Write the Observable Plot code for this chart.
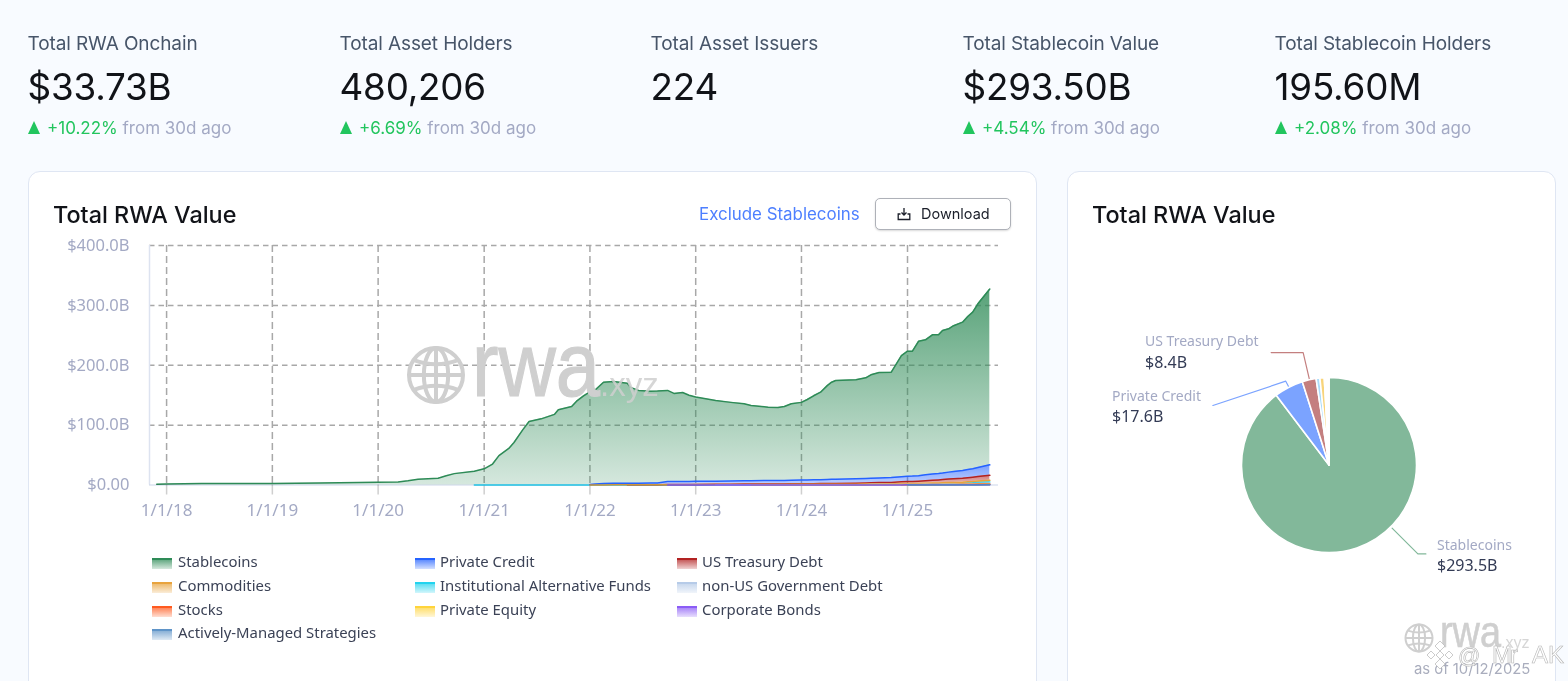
<!DOCTYPE html>
<html><head><meta charset="utf-8">
<script src="https://cdn.jsdelivr.net/npm/d3@7"></script>
<script src="https://cdn.jsdelivr.net/npm/@observablehq/plot@0.6"></script>
<style>
html,body{margin:0;padding:0;width:1568px;height:681px;overflow:hidden;background:#f8fbff;font-family:Inter,sans-serif}
.abs{position:absolute;white-space:nowrap}
.card{position:absolute;background:#fff;border:1px solid #dfe6f3;border-radius:12px;box-sizing:border-box}
.slabel{font-size:19px;color:#475569;line-height:22px;letter-spacing:-.1px}
.sval{font-size:36.8px;color:#111318;line-height:44px;letter-spacing:-.2px}
.sdelta{font-size:17px;line-height:20px;color:#a3a9c4}
.sdelta b{font-weight:400;color:#22c55e}
.tri{position:absolute;width:0;height:0;border-left:6.5px solid transparent;border-right:6.5px solid transparent;border-bottom:13px solid #22c55e}
.ctitle{font-size:23.4px;font-weight:500;color:#111318;line-height:30px}
.lg{font-family:"Noto Sans",sans-serif;font-size:14.9px;color:#3b4256;line-height:20px}
.sw{position:absolute;width:20px;height:11px}
svg{overflow:visible}
</style></head><body>
<div class="card" style="left:28px;top:171px;width:1009px;height:600px"></div>
<div class="card" style="left:1067px;top:171px;width:489px;height:600px"></div>
<div id="stats"></div>
<div class="abs ctitle" style="left:53px;top:200px">Total RWA Value</div>
<div class="abs ctitle" style="left:1092px;top:200px">Total RWA Value</div>
<div class="abs" style="left:699px;top:204px;font-size:16.9px;line-height:20px;color:#4d7fff">Exclude Stablecoins</div>
<div class="abs" style="left:875px;top:198px;width:136px;height:32px;box-sizing:border-box;background:#fff;border:1px solid #aeb1b8;border-radius:5px;box-shadow:0 1px 2px rgba(0,0,0,.15);font-size:14.5px;line-height:30px;color:#1b1f2a;padding-left:45px">Download
<svg style="position:absolute;left:21px;top:8px" width="14" height="14" viewBox="0 0 14 14" fill="none" stroke="#1b1f2a" stroke-width="1.3"><path d="M7 1v7M4.5 5.5 7 8l2.5-2.5M3.5 7H1.2v5.5h11.6V7H10.500"/></svg></div>
<div id="main" class="abs" style="left:54px;top:235px"></div>
<div id="legend"></div>
<div id="pie" class="abs" style="left:1067px;top:240px"></div>
<svg id="wm" class="abs" style="left:0;top:0;pointer-events:none" width="1568" height="681"></svg>
<script>
// ---------- data ----------
const statLabels = ["Total RWA Onchain","Total Asset Holders","Total Asset Issuers","Total Stablecoin Value","Total Stablecoin Holders"];
const statValues = ["$33.73B","480,206","224","$293.50B","195.60M"];
const statDeltas = ["+10.22%","+6.69%",null,"+4.54%","+2.08%"];

const dates = ["2017-11-28","2018-01-01","2018-05-01","2019-01-01","2019-06-15","2020-01-01","2020-03-10","2020-04-13","2020-05-18","2020-07-26",
"2020-08-23","2020-09-20","2020-11-28","2021-01-01","2021-01-30","2021-02-21","2021-03-27","2021-04-14","2021-05-14","2021-06-05",
"2021-07-17","2021-09-01","2021-09-14","2021-10-30","2021-11-16","2021-12-10",
"2022-01-01","2022-01-20","2022-02-17","2022-03-23","2022-05-10","2022-05-21","2022-06-18","2022-07-30","2022-08-22",
"2022-09-26","2022-10-18","2022-11-17","2022-12-09","2023-01-01","2023-03-11","2023-05-02","2023-06-17","2023-07-11","2023-09-08",
"2023-10-12","2023-11-03","2023-11-27","2024-01-01","2024-01-21","2024-02-12","2024-03-07","2024-03-30","2024-04-14","2024-04-28",
"2024-07-07","2024-08-10","2024-08-28","2024-09-25","2024-11-06","2024-12-11","2025-01-01","2025-01-18","2025-02-08","2025-03-04",
"2025-03-28","2025-04-18","2025-05-02","2025-05-23","2025-06-09","2025-07-10","2025-07-28","2025-08-14","2025-09-01","2025-10-12"];

// top edge of the whole stack, $B, one per date
const stackTop = [1.3,1.6,2.4,2.6,3.2,4.7,5.2,7,9.7,11.4,
15.3,19,23,27,35,49,61,71,92,106,
110.5,118,125.6,131,140,149,
155.6,159,171.7,173,170,163,158,156.7,157,
158,153,154.5,150,147,141,138,135.6,132.8,130,
129.4,131,135.6,138,142.8,149,155,166,171.7,174.5,
175.6,179,184,187.9,188.4,216,223.5,223.5,240,242.5,
250.9,251,258,260.9,266,272,281.4,288.7,302.6,327.2];

// smaller series, from 2022-01-01 onward
const privateCredit = [.5,1.5,2.2,2.5,2.6,2.6,2.6,2.7,2.7,
5,5,5.1,5.1,5.2,5.3,5.4,5.5,5.6,5.8,
5.9,6,6.1,6.3,6.4,6.5,6.6,6.7,6.8,6.9,
7.2,7.4,7.6,7.8,8.1,8.6,8.8,9,9.3,9.9,
10.4,10.7,11,11.6,12,13,13.6,14.2,15.2,17.6];
const usTreasury = [0,0,0,0,.05,.05,.05,.05,.05,
.1,.1,.1,.1,.2,.3,.5,.6,.6,.7,
.7,.7,.8,.9,.9,1,1.1,1.2,1.3,1.3,
1.7,1.9,2,2.2,2.4,3,3.3,3.4,3.8,4.2,
4.6,5,5.2,5.8,6.1,6.6,7,7.4,7.6,8.4];
const commodities = [.1,.1,.1,.2,.2,.2,.3,.3,.3,
.4,.4,.4,.4,.5,.5,.6,.6,.6,.6,
.6,.6,.7,.7,.7,.7,.8,.8,.9,.9,
.9,.9,.9,.9,1,1.1,1.1,1.1,1.2,1.3,
1.4,1.5,1.5,1.6,1.6,1.7,1.8,1.9,2.1,2.6];
const institutional = [.1,.1,.1,.1,.1,.1,.1,.1,.1,
.1,.1,.1,.1,.1,.1,.1,.1,.1,.1,
.1,.1,.1,.1,.1,.1,.1,.1,.1,.1,
.1,.2,.2,.2,.2,.3,.3,.4,.4,.5,
.6,.7,.8,.9,1,1.2,1.4,1.6,1.9,2.3];
const institutionalEarly = [.05,.05,.05,.05,.05,.05,.05,.05,.05,.05,.05,.05,.05,.05];
const nonUsGov = [0,0,0,0,0,0,0,0,0,
0,0,0,0,0,.1,.1,.1,.1,.1,
.1,.1,.1,.1,.1,.1,.1,.2,.2,.2,
.2,.3,.3,.3,.3,.4,.4,.4,.4,.5,
.5,.5,.6,.6,.7,.7,.8,.8,.9,1];
const stocks = [0,0,0,0,0,0,0,0,0,
0,0,0,0,0,0,0,0,0,0,
0,0,0,0,0,0,0,0,0,0,
0,0,0,0,0,.1,.1,.1,.1,.1,
.2,.2,.2,.3,.3,.4,.5,.6,.7,.9];
const privateEquity = [0,0,0,0,0,0,0,0,0,
0,0,0,0,0,0,0,0,.1,.1,
.1,.1,.1,.1,.1,.1,.1,.1,.1,.1,
.1,.1,.2,.2,.2,.2,.2,.2,.2,.2,
.2,.2,.3,.3,.3,.3,.3,.3,.4,.4];
const corporateBonds = [0,0,0,0,0,0,0,0,0,
.1,.1,.1,.1,.1,.1,.1,.1,.1,.1,
.1,.1,.1,.1,.1,.1,.1,.1,.1,.1,
.1,.1,.2,.2,.2,.2,.2,.2,.2,.2,
.3,.3,.3,.3,.3,.3,.3,.3,.3,.3];
const activeStrategies = [0,0,0,0,0,0,0,0,0,
0,0,0,0,0,0,0,0,0,0,
0,0,0,0,0,0,0,0,0,0,
0,0,0,0,0,0,.05,.05,.05,.05,
.1,.1,.1,.1,.1,.15,.15,.2,.2,.23];

const legendNames = ["Stablecoins","Private Credit","US Treasury Debt","Commodities","Institutional Alternative Funds","non-US Government Debt","Stocks","Private Equity","Corporate Bonds","Actively-Managed Strategies"];
const seriesColors = ["#2e8b57","#2563ff","#b22222","#e8a33d","#22d3ee","#b6cbe8","#ff5a1f","#ffd43b","#8b5cf6","#5f94c8"];
const gradientAlpha = [[.8,.2],[.62,.3],[.6,.3],[.55,.3],[.55,.3],[.55,.3],[.55,.3],[.55,.3],[.55,.3],[.55,.3]];
const stackOrder = ["Actively-Managed Strategies","Corporate Bonds","Private Equity","Stocks","non-US Government Debt","Institutional Alternative Funds","Commodities","US Treasury Debt","Private Credit","Stablecoins"];

const pieNames = ["Stablecoins","Private Credit","US Treasury Debt","Institutional Alternative Funds","Commodities","non-US Government Debt","Stocks","Private Equity","Corporate Bonds","Actively-Managed Strategies"];
const pieValues = [293.5,17.6,8.4,2.3,2.6,1.0,.9,.4,.3,.23];
const pieColors = ["#82b89a","#7ba3ff","#c47f7f","#aadcfa","#f8d47a","#dbe6f5","#fbd0b8","#fdeeb0","#d8c8fb","#c6d8ec"];

const xTicks = ["2018-01-01","2019-01-01","2020-01-01","2021-01-01","2022-01-01","2023-01-01","2024-01-01","2025-01-01"].map(d=>new Date(d));
const yTicks = [0,100,200,300,400];
const yTickLabels = ["$0.00","$100.0B","$200.0B","$300.0B","$400.0B"];

// ---------- header ----------
const statX = [27.5,339.5,650.5,962.5,1274.5];
document.getElementById("stats").innerHTML = statLabels.map((l,i)=>`
 <div class="abs slabel" style="left:${statX[i]}px;top:33px">${l}</div>
 <div class="abs sval" style="left:${statX[i]}px;top:65px">${statValues[i]}</div>
 ${statDeltas[i]?`<div class="tri" style="left:${statX[i]+.5}px;top:121px"></div>
 <div class="abs sdelta" style="left:${statX[i]+19.5}px;top:118px"><b>${statDeltas[i]}</b> from 30d ago</div>`:""}`).join("");

// ---------- legend ----------
const colX=[152,414,676], rowY=[561,585,609,632];
document.getElementById("legend").innerHTML = legendNames.map((n,i)=>{
  const c=seriesColors[i], cx=colX[i%3], ry=rowY[Math.floor(i/3)];
  return `<div class="sw" style="left:${i%3?cx+1:cx}px;top:${ry-3}px;border-top:2px solid ${c};box-sizing:border-box;background:linear-gradient(${c}bb,${c}33)"></div>
  <div class="abs lg" style="left:${cx+26}px;top:${ry-10}px">${n}</div>`}).join("");

// ---------- stacked area ----------
const recent = dates.slice(26);
const small = {"Private Credit":privateCredit,"US Treasury Debt":usTreasury,"Commodities":commodities,"Institutional Alternative Funds":institutional,"non-US Government Debt":nonUsGov,"Stocks":stocks,"Private Equity":privateEquity,"Corporate Bonds":corporateBonds,"Actively-Managed Strategies":activeStrategies};
const rows=[];
dates.slice(12,26).forEach((d,j)=>rows.push({date:new Date(d),series:"Institutional Alternative Funds",value:institutionalEarly[j]}));
for (const [name,vals] of Object.entries(small)) vals.forEach((v,j)=>{ if(v>0) rows.push({date:new Date(recent[j]),series:name,value:v}); });
dates.forEach((d,j)=>{
  const below = j<26?(j>=12?institutionalEarly[j-12]:0):d3.sum(Object.values(small),a=>a[j-26]);
  rows.push({date:new Date(d),series:"Stablecoins",value:stackTop[j]-below});
});
const colorOf = Object.fromEntries(legendNames.map((n,i)=>[n,seriesColors[i]]));
const gid = n => "g"+legendNames.indexOf(n);
const defs = () => {
  const s=d3.create("svg:defs");
  legendNames.forEach((n,i)=>{
    const g=s.append("linearGradient").attr("id",gid(n)).attr("x1",0).attr("x2",0).attr("y1",0).attr("y2",1);
    g.append("stop").attr("offset",0).attr("stop-color",seriesColors[i]).attr("stop-opacity",gradientAlpha[i][0]);
    g.append("stop").attr("offset",1).attr("stop-color",seriesColors[i]).attr("stop-opacity",gradientAlpha[i][1]);
  });
  return s.node();
};
const stackOpts = {x:"date",y:"value",z:"series",order:stackOrder};
const gridStyle = {stroke:"#a8a8a8",strokeWidth:1.5,strokeOpacity:1};
const main = Plot.plot({
  width:960,height:290,marginLeft:95,marginRight:16,marginTop:10,marginBottom:40.5,
  style:{fontFamily:'"Noto Sans",sans-serif',background:"transparent",overflow:"visible"},
  x:{type:"utc",domain:[new Date("2017-11-03"),new Date("2025-11-11")]},
  y:{domain:[0,400]},
  color:{type:"identity"},
  marks:[
    defs,
    Plot.gridX(xTicks,{...gridStyle,strokeDasharray:"7 4"}),
    Plot.gridY(yTicks.slice(1),{...gridStyle,strokeDasharray:"5.500 4"}),
    Plot.ruleX([new Date("2017-11-03")],{stroke:"#dde3f0",strokeWidth:1.5}),
    Plot.axisX(xTicks,{tickFormat:d3.utcFormat("%-m/%-d/%y"),label:null,tickSize:10,tickPadding:9,stroke:"#cfcfcf",strokeWidth:1.5,fill:"#a3a9c4",fontSize:17,color:"#a3a9c4"}),
    Plot.axisY(yTicks,{tickFormat:d=>yTickLabels[yTicks.indexOf(d)],label:null,tickSize:0,tickPadding:20,fill:"#a3a9c4",fontSize:16.5,color:"#a3a9c4"}),
    Plot.areaY(rows,Plot.stackY({...stackOpts,fill:d=>`url(#${gid(d.series)})`})),
    Plot.lineY(rows,Plot.stackY2({...stackOpts,stroke:d=>colorOf[d.series],strokeWidth:1.5,curve:"linear"})),
    Plot.ruleY([0],{stroke:"#dde3f0",strokeWidth:1.5,mixBlendMode:"multiply"}),
  ]
});
document.getElementById("main").append(main);

// ---------- pie ----------
const R = 87.5;
const arcs = d3.pie().sort(null).value(d=>d)(pieValues);
const mid = i => (arcs[i].startAngle+arcs[i].endAngle)/2;
const labelLayout = [
  {i:0,angle:Math.PI*.75,r0:R+1,r1:125,endDx:8,nameX:107.5,nameY:80,valY:100},
  {i:1,r0:R,r1:95,endX:-116.6,endY:-60,nameX:-217.5,nameY:-69,valY:-49},
  {i:2,r0:R,r1:116,endDx:-32,nameX:-184.5,nameY:-124,valY:-103},
];
const leaderRows=[], nameRows=[], valRows=[];
labelLayout.forEach(l=>{
  const a = l.angle ?? mid(l.i), n = pieNames[l.i];
  const p0=[l.r0*Math.sin(a),-l.r0*Math.cos(a)], p1=[l.r1*Math.sin(a),-l.r1*Math.cos(a)];
  const p2 = l.endDx!==undefined ? [p1[0]+l.endDx,p1[1]] : [l.endX,l.endY];
  [p0,p1,p2].forEach(p=>leaderRows.push({n,x:p[0],y:p[1],c:pieColors[l.i]}));
  nameRows.push({n,x:l.nameX,y:l.nameY});
  valRows.push({t:"$"+pieValues[l.i].toFixed(1)+"B",x:l.nameX,y:l.valY});
});
const sliceMark = (index,{x,y}) => {
  const g=d3.create("svg:g").attr("transform",`translate(${x(0)},${y(0)})`);
  const r=x(R)-x(0);
  g.selectAll("path").data(arcs).join("path")
    .attr("d",d3.arc().innerRadius(0).outerRadius(r))
    .attr("fill",(d,i)=>pieColors[i]).attr("stroke","#fff").attr("stroke-width",1.6).attr("stroke-linejoin","round");
  return g.node();
};
const pie = Plot.plot({
  width:488,height:441,margin:0,
  style:{fontFamily:'"Noto Sans",sans-serif',background:"transparent",overflow:"visible"},
  x:{domain:[-262,226],range:[0,488],axis:null},
  y:{domain:[-225,216],range:[0,441],axis:null},
  color:{type:"identity"},
  marks:[
    Plot.line(leaderRows,{x:"x",y:"y",z:"n",stroke:"c",strokeWidth:1.2,curve:"linear"}),
    sliceMark,
    Plot.text(nameRows,{x:"x",y:"y",text:"n",textAnchor:"start",fill:"#a3a9c4",fontSize:14}),
    Plot.text(valRows,{x:"x",y:"y",text:"t",textAnchor:"start",fill:"#333b55",fontSize:16}),
  ]
});
document.getElementById("pie").append(pie);

// ---------- watermarks ----------
const wm = d3.select("#wm");
function brand(cx,cy,r,rx0,rwaW,rwaSize,base,xyzSize,xyzBase,sw,heavy){
  const g=wm.append("g").attr("fill","none").attr("stroke","#cfcfcf").attr("stroke-width",sw);
  g.append("circle").attr("cx",cx).attr("cy",cy).attr("r",r);
  g.append("ellipse").attr("cx",cx).attr("cy",cy).attr("rx",r*.45).attr("ry",r);
  g.append("line").attr("x1",cx).attr("x2",cx).attr("y1",cy-r).attr("y2",cy+r);
  g.append("line").attr("x1",cx-r).attr("x2",cx+r).attr("y1",cy).attr("y2",cy);
  g.append("path").attr("d",`M${cx-r*.82} ${cy-r*.55}Q${cx} ${cy-r*.25} ${cx+r*.82} ${cy-r*.55}M${cx-r*.82} ${cy+r*.55}Q${cx} ${cy+r*.25} ${cx+r*.82} ${cy+r*.55}`);
  wm.append("text").attr("x",rx0).attr("y",base).attr("font-family","Liberation Sans").attr("font-size",rwaSize).attr("fill","#cfcfcf").attr("stroke","#cfcfcf").attr("stroke-width",heavy)
    .attr("textLength",rwaW).attr("lengthAdjust","spacingAndGlyphs").text("rwa");
  wm.append("text").attr("x",rx0+rwaW).attr("y",xyzBase).attr("font-family","Liberation Sans").attr("font-size",xyzSize).attr("fill","#cfcfcf").attr("fill-opacity",.85).text(".xyz");
}
brand(436,375,27,472,128,90,396,33,396,4,1.2);
brand(1419,638,13.500,1440,61,44,647,16,648,2,.6);
wm.append("text").attr("x",1414).attr("y",674).attr("font-family","Inter").attr("font-size",14.8).attr("fill","#a9adbd").text("as of 10/12/2025");
// repost overlay
const dm=wm.append("g").attr("fill","#fff").attr("stroke","#b5b5b5").attr("stroke-width",.7);
[[1440,646,5],[1431,655,4],[1440,655,4],[1449,655,4],[1440,664,5]].forEach(([x,y,s])=>dm.append("path").attr("d",`M${x} ${y-s}L${x+s} ${y}L${x} ${y+s}L${x-s} ${y}Z`));
[["@",1458],["M",1492],["r",1510],["AK",1532]].forEach(([t,x])=>wm.append("text").attr("x",x).attr("y",663).attr("font-family","Liberation Sans").attr("font-size",t=="@"?22:24).attr("fill","#fff").attr("stroke","#b5b5b5").attr("stroke-width",.6).text(t));
</script>
</body></html>
